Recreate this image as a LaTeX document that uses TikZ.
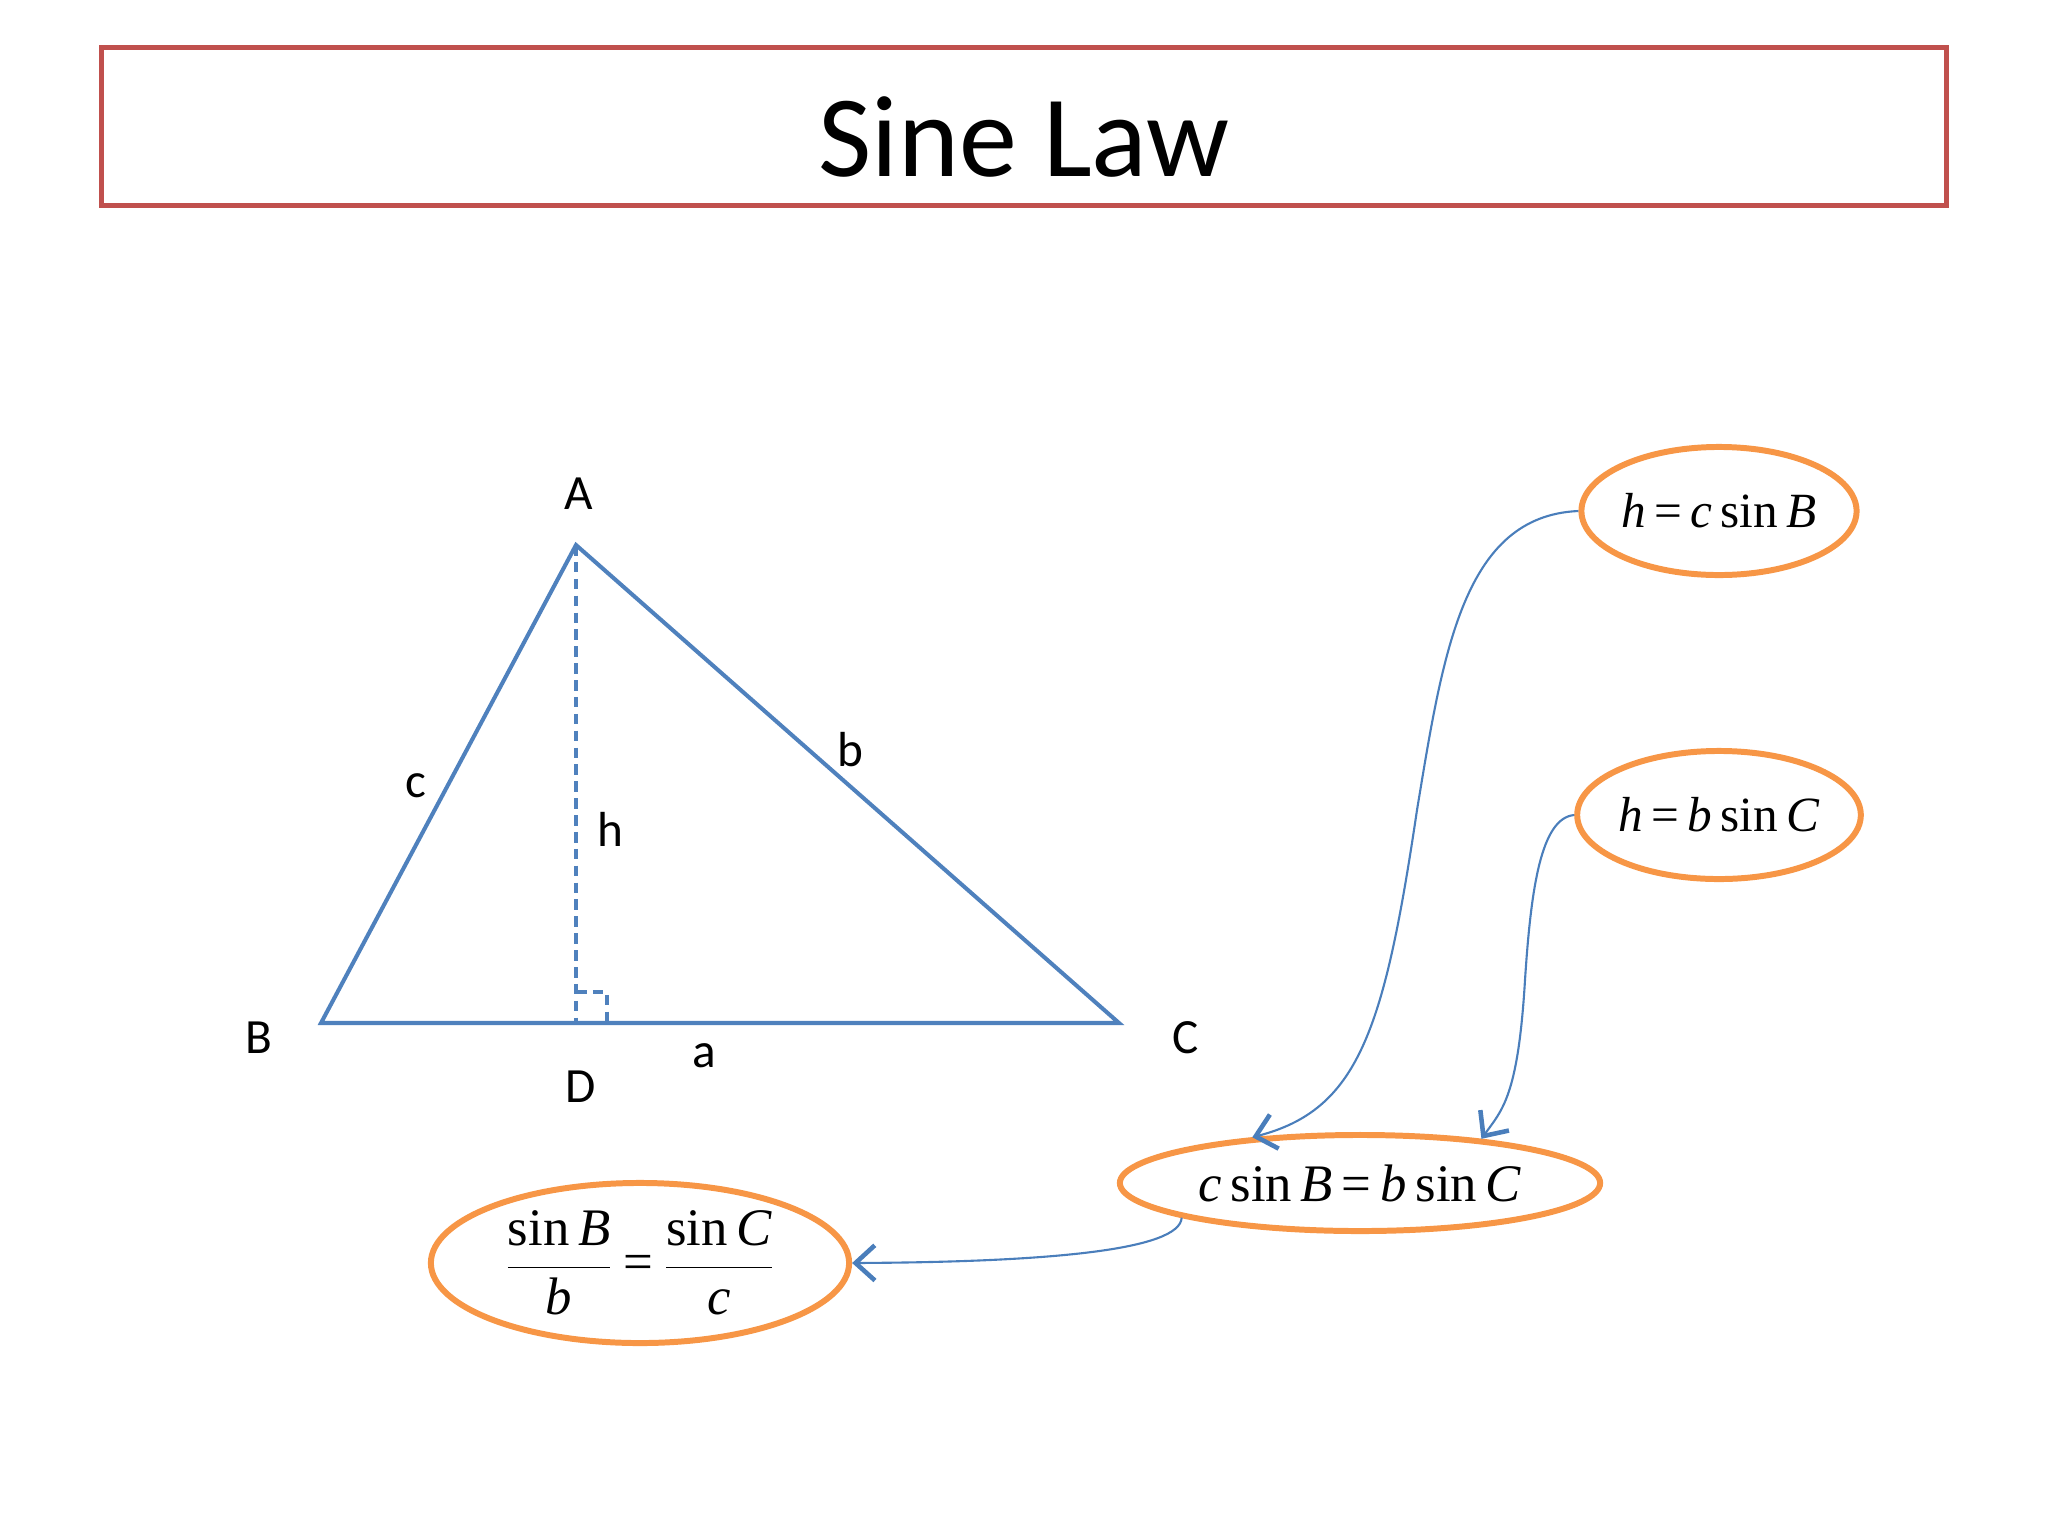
\documentclass[tikz,border=0pt]{standalone}
\usepackage{fontspec}
\setmainfont{Carlito}
\newfontfamily\eqfont{Liberation Serif}
\usetikzlibrary{shapes.geometric,arrows.meta}
\definecolor{lineblue}{HTML}{4F81BD}
\definecolor{linkblue}{HTML}{4A7EBB}
\definecolor{ringorange}{HTML}{F79646}
\definecolor{boxred}{HTML}{C0504D}
\newcommand{\var}[1]{\textit{#1}}

\begin{document}
\begin{tikzpicture}[x=0.01cm, y=-0.01cm,
  side/.style={draw=lineblue, line width=1.15pt},
  height/.style={draw=lineblue, line width=1pt, dash pattern=on 3pt off 1.8pt},
  lbl/.style={font=\fontsize{14}{16}\selectfont, inner sep=0pt},
  eqn/.style={ellipse, draw=ringorange, line width=1.7pt, inner sep=0pt, font=\eqfont\fontsize{15}{18}\selectfont},
  link/.style={draw=linkblue, line width=0.6pt, -{Straight Barb[length=5.5pt,width=10pt,line width=1.3pt]}}]
\useasboundingbox (0,0) rectangle (2048,1536);

% title
\node[draw=boxred, line width=1.4pt, minimum width=18.44cm, minimum height=1.57cm] (titlebox) at (1024,126.5) {};
\node[font=\fontsize{33}{40}\selectfont, inner sep=0pt] (title) at (1024,137) {Sine Law};

% triangle
\coordinate (A) at (576,545);
\coordinate (B) at (321,1023);
\coordinate (C) at (1119,1023);
\coordinate (D) at (576,1023);
\draw[side] (B) -- (A) -- (C) -- cycle;
\draw[height] (A) -- (D);
\draw[height] (D) ++(0,-31) -- ++(31,0) -- ++(0,31);

\node[lbl] (lA) at (579,494) {A};
\node[lbl] (lB) at (259,1038) {B};
\node[lbl] (lC) at (1186,1038) {C};
\node[lbl] (lD) at (581,1087) {D};
\node[lbl] (la) at (704,1056) {a};
\node[lbl] (lb) at (850,750) {b};
\node[lbl] (lc) at (416,786) {c};
\node[lbl] (lh) at (610,829) {h};

% equations
\node[eqn, font=\eqfont\fontsize{14}{17}\selectfont, minimum width=2.72cm, minimum height=1.28cm] (hB) at (1719,511) {\var{h}\,=\,\var{c}\,sin\,\var{B}};
\node[eqn, font=\eqfont\fontsize{14}{17}\selectfont, minimum width=2.72cm, minimum height=1.28cm] (hC) at (1719,815) {\var{h}\,=\,\var{b}\,sin\,\var{C}};
\node[eqn, minimum width=4.8cm, minimum height=0.96cm] (eq) at (1360,1183) {\var{c}\,sin\,\var{B}\,=\,\var{b}\,sin\,\var{C}};
\node[eqn, minimum width=4.18cm, minimum height=1.6cm] (ratio) at (640,1263)
  {$\displaystyle\frac{\mbox{sin\,\var{B}}}{\mbox{\var{b}}}\mbox{\,=\,}\frac{\mbox{sin\,\var{C}}}{\mbox{\var{c}}}$};

% links
\draw[link] (hB.west) .. controls (1463,516) and (1443,653) .. (1417,810)
  .. controls (1384,1032) and (1358,1110) .. (eq.157);
\draw[link] (hC.west) .. controls (1541,818) and (1531,888) .. (1525,980)
  .. controls (1518,1097) and (1502,1110) .. (eq.20);
\draw[link] (eq.191) .. controls (1180,1250) and (1050,1262) .. (ratio.east);
\end{tikzpicture}
\end{document}
